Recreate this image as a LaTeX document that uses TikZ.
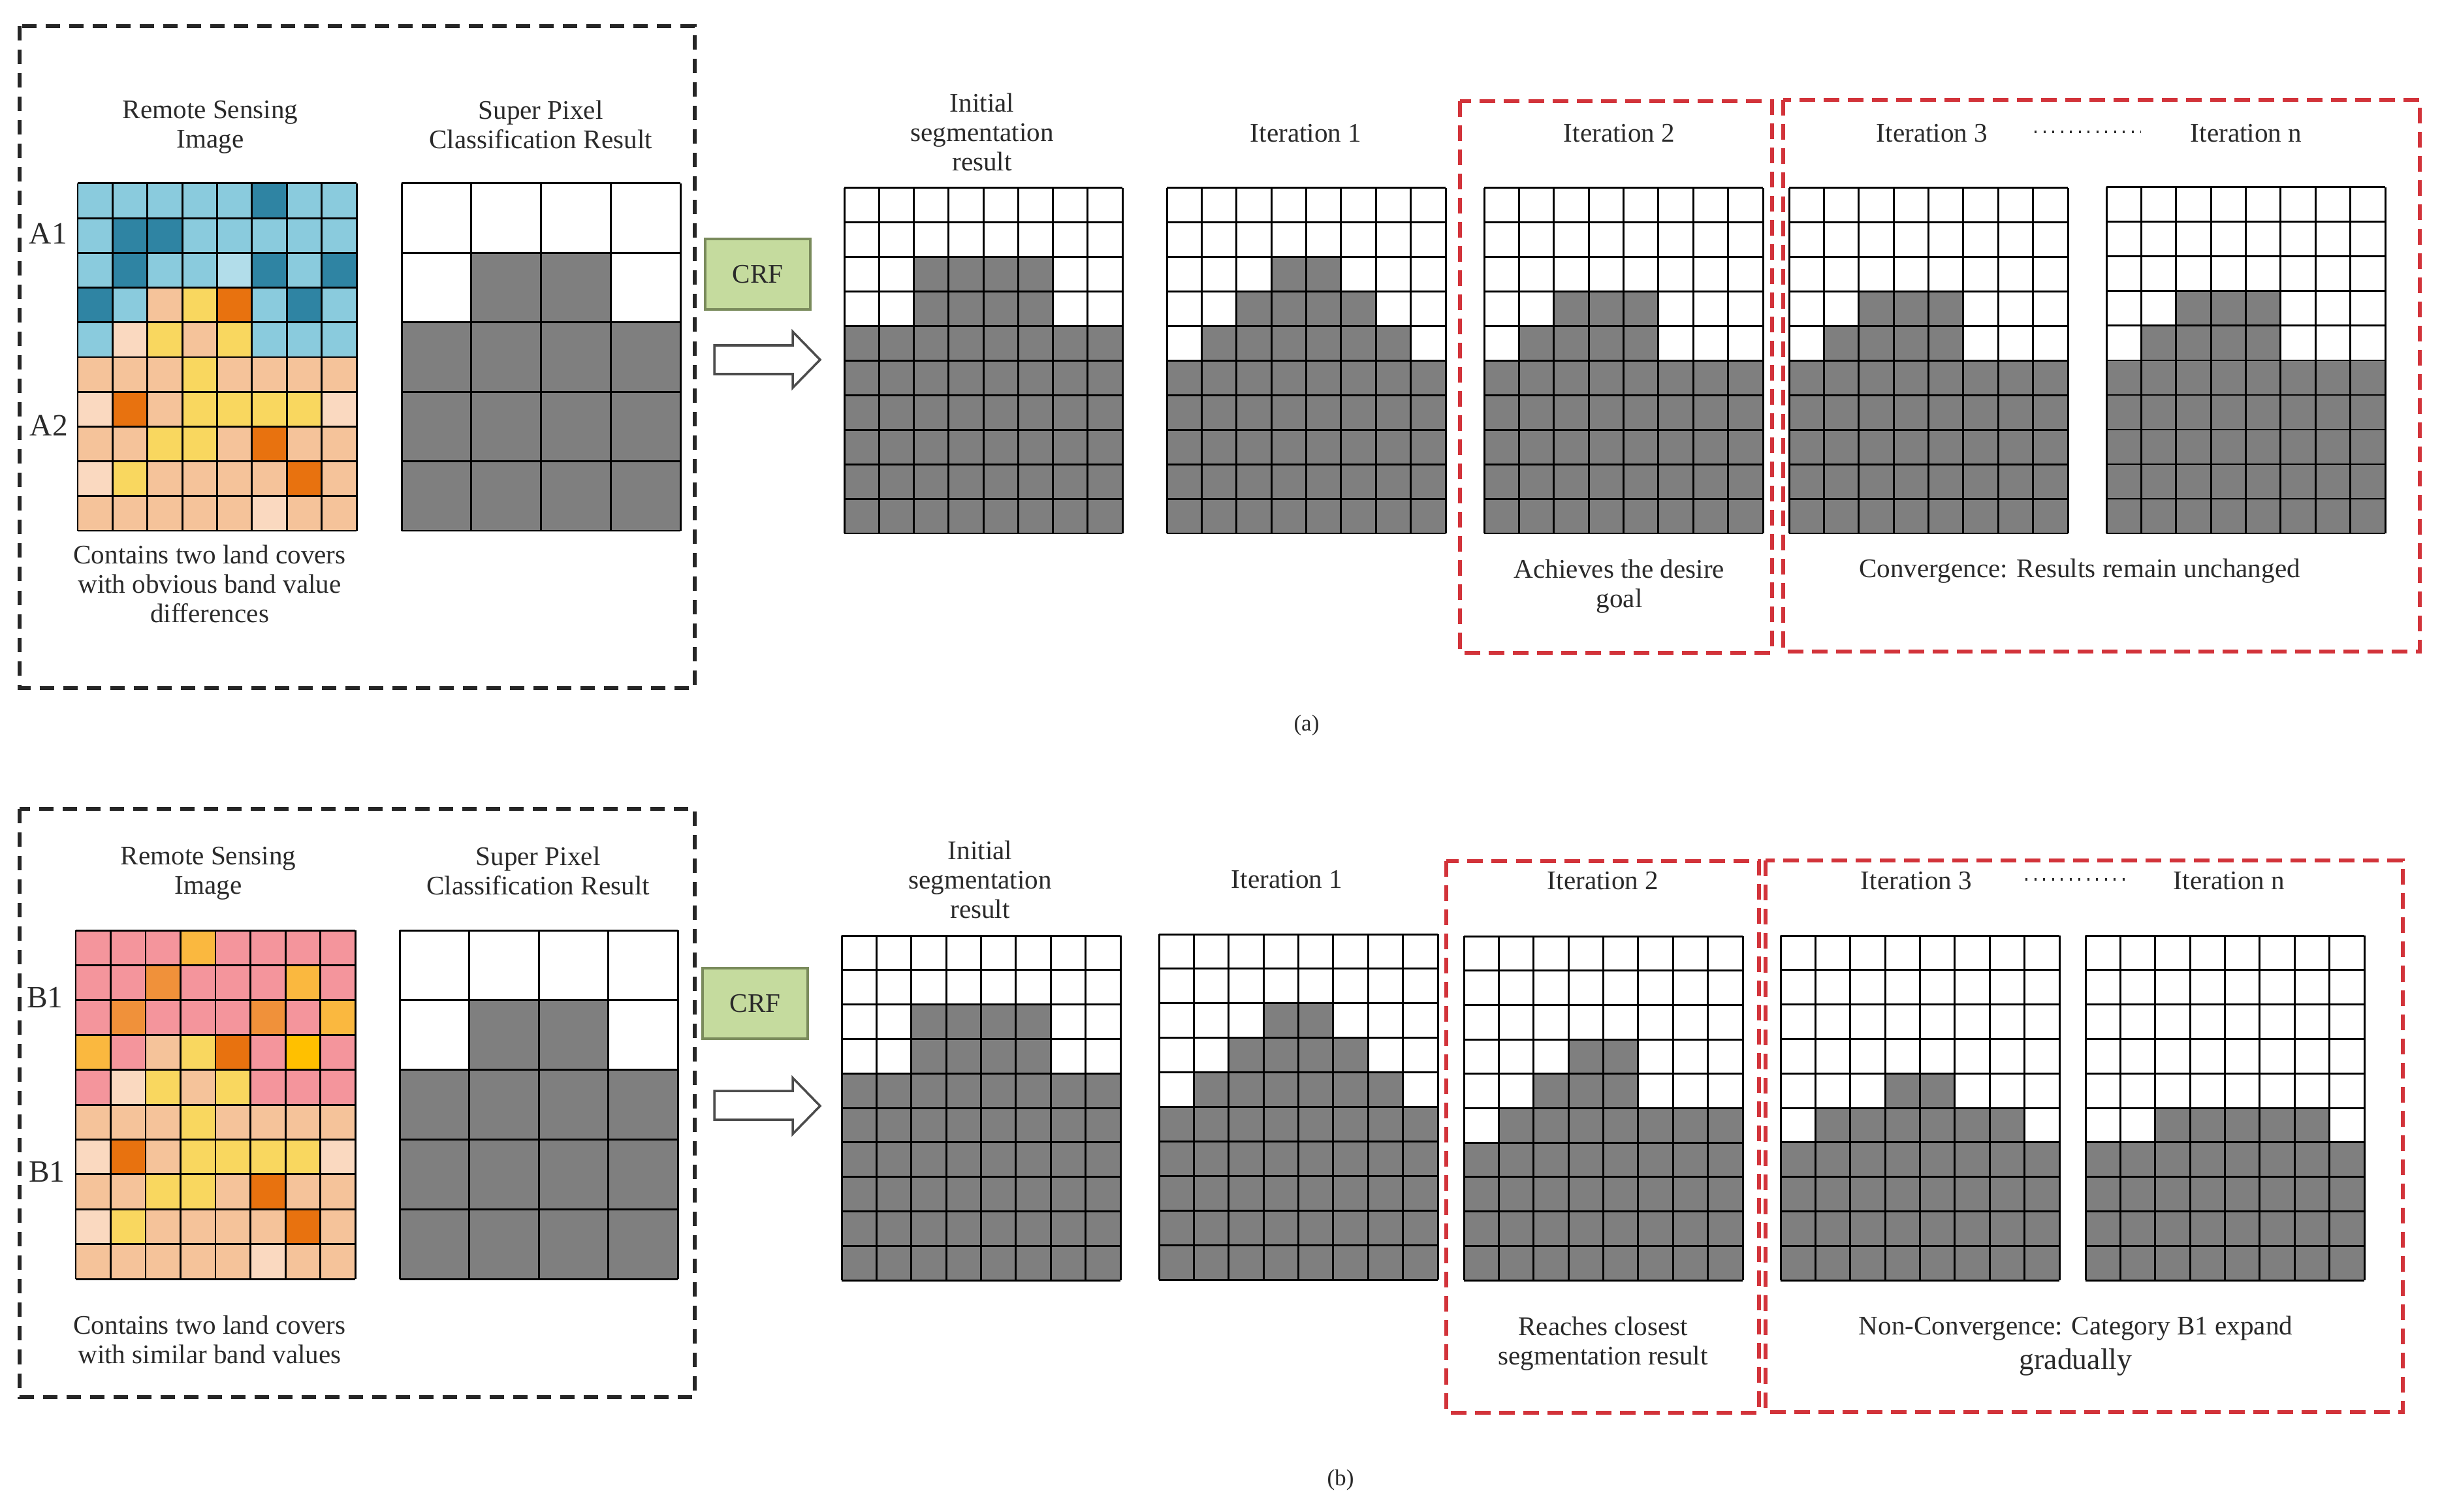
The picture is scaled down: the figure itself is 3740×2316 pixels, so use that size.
\documentclass[tikz,border=0pt]{standalone}
\usepackage{fontspec}
\setmainfont{Liberation Serif}
\definecolor{cL}{HTML}{8ACBDD}
\definecolor{cD}{HTML}{2F84A3}
\definecolor{cV}{HTML}{B2DDEA}
\definecolor{cP}{HTML}{F5C39A}
\definecolor{cY}{HTML}{F9D75F}
\definecolor{cO}{HTML}{E8720F}
\definecolor{cW}{HTML}{FAD9C0}
\definecolor{cR}{HTML}{F4959C}
\definecolor{cG}{HTML}{FAB83F}
\definecolor{cM}{HTML}{F0913A}
\definecolor{cC}{HTML}{FFC000}
\definecolor{cellgray}{HTML}{7F7F7F}
\definecolor{crffill}{HTML}{C5DB9E}
\definecolor{crfline}{HTML}{7A8B5C}
\definecolor{redbox}{HTML}{D2333A}
\definecolor{inktext}{HTML}{2A2A2A}
\tikzset{
  x=0.01cm, y=-0.01cm,
  gridline/.style={draw=black, line width=0.85pt},
  lab/.style={inner sep=0pt, align=center, text=inktext, font=\fontsize{11.7}{12.8}\selectfont},
  biglab/.style={inner sep=0pt, text=inktext, font=\fontsize{13.5}{14}\selectfont},
  blackbox/.style={draw=black!85, line width=1.6pt, dash pattern=on 0.22cm off 0.14cm},
  redframe/.style={draw=redbox, line width=1.7pt, dash pattern=on 0.24cm off 0.13cm},
  crfbox/.style={draw=crfline, fill=crffill, line width=1.2pt, minimum width=1.61cm, minimum height=1.08cm, inner sep=0pt, text=inktext, font=\fontsize{11.7}{12.8}\selectfont},
  blockarrow/.style={draw=black!70, fill=white, line width=1pt},
  dotline/.style={draw=inktext, line width=1pt, dash pattern=on 0.03cm off 0.105cm},
}
% x0 y0 x1 y1 : rows from which everything is grey : spans row/from/to (0-based cells)
\newcommand{\seggrid}[6]{%
  \pgfmathsetmacro{\gcw}{(#3-#1)/8}%
  \pgfmathsetmacro{\gch}{(#4-#2)/10}%
  \fill[cellgray] ({#1},{#2+#5*\gch}) rectangle (#3,#4);
  \foreach \rr/\aa/\bb in {#6}{
    \fill[cellgray] ({#1+\aa*\gcw},{#2+\rr*\gch}) rectangle ({#1+\bb*\gcw},{#2+(\rr+1)*\gch});
  }
  \foreach \ii in {0,...,8}{\draw[gridline] ({#1+\ii*\gcw},#2) -- ({#1+\ii*\gcw},#4);}
  \foreach \jj in {0,...,10}{\draw[gridline] (#1,{#2+\jj*\gch}) -- (#3,{#2+\jj*\gch});}
}
% coarse super pixel grid
\newcommand{\supergrid}[4]{%
  \pgfmathsetmacro{\gcw}{(#3-#1)/4}%
  \pgfmathsetmacro{\gch}{(#4-#2)/5}%
  \fill[cellgray] (#1,{#2+2*\gch}) rectangle (#3,#4);
  \fill[cellgray] ({#1+\gcw},{#2+\gch}) rectangle ({#1+3*\gcw},{#2+2*\gch});
  \foreach \ii in {0,...,4}{\draw[gridline] ({#1+\ii*\gcw},#2) -- ({#1+\ii*\gcw},#4);}
  \foreach \jj in {0,...,5}{\draw[gridline] (#1,{#2+\jj*\gch}) -- (#3,{#2+\jj*\gch});}
}
% coloured image grid
\newcommand{\colgrid}[5]{%
  \pgfmathsetmacro{\gcw}{(#3-#1)/8}%
  \pgfmathsetmacro{\gch}{(#4-#2)/10}%
  \foreach \rowc [count=\rr from 0] in {#5}{
    \foreach \cc [count=\ii from 0] in \rowc {
      \fill[fill=c\cc] ({#1+\ii*\gcw},{#2+\rr*\gch}) rectangle ({#1+(\ii+1)*\gcw},{#2+(\rr+1)*\gch});
    }
  }
  \foreach \ii in {0,...,8}{\draw[gridline] ({#1+\ii*\gcw},#2) -- ({#1+\ii*\gcw},#4);}
  \foreach \jj in {0,...,10}{\draw[gridline] (#1,{#2+\jj*\gch}) -- (#3,{#2+\jj*\gch});}
}
\begin{document}
\begin{tikzpicture}
\useasboundingbox (0,0) rectangle (3740,2316);
\fill[white] (0,0) rectangle (3740,2316);

% ---------- panel (a)
\draw[blackbox] (30,40) rectangle (1064,1054);
\colgrid{119}{281}{546}{813}{{L,L,L,L,L,D,L,L},{L,D,D,L,L,L,L,L},{L,D,L,L,V,D,L,D},{D,L,P,Y,O,L,D,L},{L,W,Y,P,Y,L,L,L},{P,P,P,Y,P,P,P,P},{W,O,P,Y,Y,Y,Y,W},{P,P,Y,Y,P,O,P,P},{W,Y,P,P,P,P,O,P},{P,P,P,P,P,W,P,P}}
\supergrid{615}{281}{1042}{813}
\node[lab] (a-rs) at (322,195) {Remote Sensing\\Image};
\node[lab] (a-sp) at (828,191) {Super Pixel\\Classification Result};
\node[biglab] (a-a1) at (74,358) {A1};
\node[biglab] (a-a2) at (75,652) {A2};
\node[lab] (a-note) at (321,894) {Contains two land covers\\with obvious band value\\differences};
\node[crfbox] (a-crf) at (1160.5,420) {CRF};
\draw[blockarrow] (1094,529) -- (1214,529) -- (1214,508) -- (1256,551) -- (1214,594) -- (1214,573) -- (1094,573) -- cycle;

\seggrid{1293}{288}{1719}{817}{4}{2/2/6,3/2/6}
\seggrid{1787}{288}{2214}{817}{5}{2/3/5,3/2/6,4/1/7}
\seggrid{2273}{288}{2700}{817}{5}{3/2/5,4/1/5}
\seggrid{2740}{288}{3167}{817}{5}{3/2/5,4/1/5}
\seggrid{3226}{287}{3653}{817}{5}{3/2/5,4/1/5}

\node[lab] (a-init) at (1504,202) {Initial\\segmentation\\result};
\node[lab] (a-it1) at (2000,204) {Iteration 1};
\node[lab] (a-it2) at (2480,204) {Iteration 2};
\node[lab] (a-it3) at (2959,204) {Iteration 3};
\node[lab] (a-itn) at (3440,204) {Iteration n};
\coordinate (a-dl) at (3116,202);
\coordinate (a-dr) at (3279,202);
\draw[dotline] (a-dl) -- (a-dr);
\draw[redframe] (2236,155) rectangle (2714,1000);
\draw[redframe] (2731,153) rectangle (3706,998);
\node[lab] (a-goal) at (2480,898) {Achieves the desire\\goal};
\node[lab] (a-conv) at (3185,875) {Convergence: Results remain unchanged};
\node[lab] (a-cap) at (2001,1111) {\fontsize{10}{12}\selectfont (a)};

% ---------- panel (b)
\draw[blackbox] (30,1239) rectangle (1064,2140);
\colgrid{116}{1425}{544}{1959}{{R,R,R,G,R,R,R,R},{R,R,M,R,R,R,G,R},{R,M,R,R,R,M,R,G},{G,R,P,Y,O,R,C,R},{R,W,Y,P,Y,R,R,R},{P,P,P,Y,P,P,P,P},{W,O,P,Y,Y,Y,Y,W},{P,P,Y,Y,P,O,P,P},{W,Y,P,P,P,P,O,P},{P,P,P,P,P,W,P,P}}
\supergrid{612}{1425}{1038}{1959}
\node[lab] (b-rs) at (319,1338) {Remote Sensing\\Image};
\node[lab] (b-sp) at (824,1334) {Super Pixel\\Classification Result};
\node[biglab] (b-b1) at (69,1528) {B1};
\node[biglab] (b-b2) at (72,1795) {B1};
\node[lab] (b-note) at (321,2052) {Contains two land covers\\with similar band values};
\node[crfbox] (b-crf) at (1156.5,1537) {CRF};
\draw[blockarrow] (1094,1671) -- (1214,1671) -- (1214,1651) -- (1256,1694) -- (1214,1737) -- (1214,1715) -- (1094,1715) -- cycle;

\seggrid{1289}{1433}{1716}{1961}{4}{2/2/6,3/2/6}
\seggrid{1775}{1431}{2202}{1960}{5}{2/3/5,3/2/6,4/1/7}
\seggrid{2242}{1434}{2669}{1961}{6}{3/3/5,4/2/5,5/1/8}
\seggrid{2727}{1433}{3154}{1961}{6}{4/3/5,5/1/7}
\seggrid{3194}{1433}{3621}{1961}{6}{5/2/7}

\node[lab] (b-init) at (1501,1347) {Initial\\segmentation\\result};
\node[lab] (b-it1) at (1971,1347) {Iteration 1};
\node[lab] (b-it2) at (2455,1349) {Iteration 2};
\node[lab] (b-it3) at (2935,1349) {Iteration 3};
\node[lab] (b-itn) at (3414,1349) {Iteration n};
\coordinate (b-dl) at (3102,1347);
\coordinate (b-dr) at (3264,1347);
\draw[dotline] (b-dl) -- (b-dr);
\draw[redframe] (2215,1319) rectangle (2694,2164);
\draw[redframe] (2704,1318) rectangle (3680,2163);
\node[lab] (b-close) at (2455,2058) {Reaches closest\\segmentation result};
\node[lab] (b-nonc) at (3179,2035) {Non-Convergence: Category B1 expand};
\node[lab] (b-grad) at (3179,2087) {\fontsize{13}{14}\selectfont gradually};
\node[lab] (b-cap) at (2053,2267) {\fontsize{10}{12}\selectfont (b)};
\end{tikzpicture}
\end{document}
